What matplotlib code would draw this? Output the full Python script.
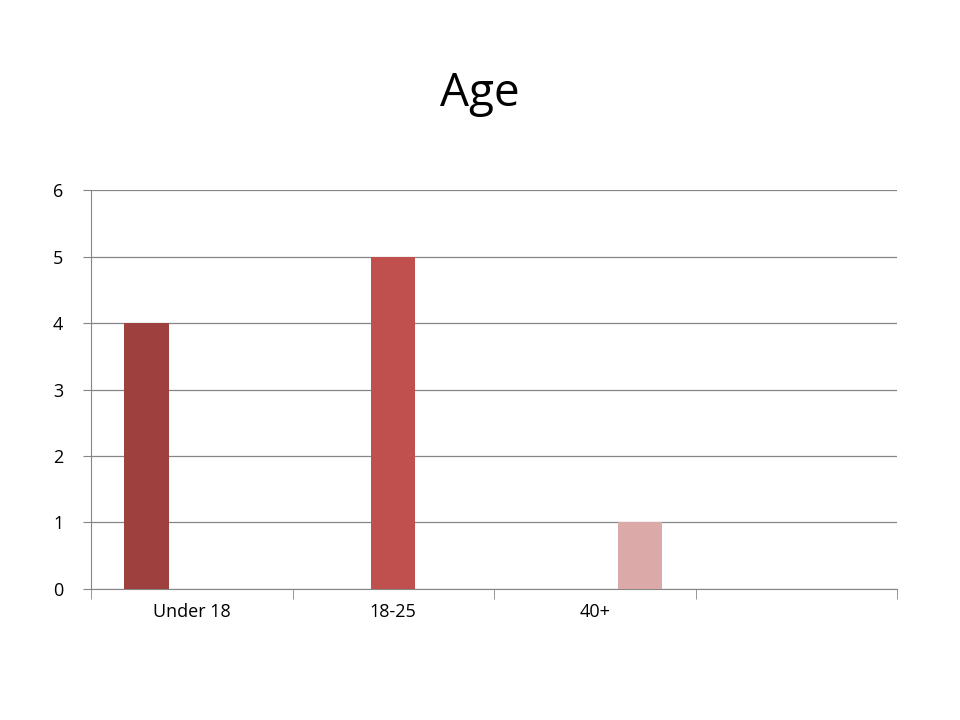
import numpy as np
import matplotlib.pyplot as plt

categories = ['Under 18', '18-25', '40+', '']
series_values = [[4, 0, 0, 0], [0, 5, 0, 0], [0, 0, 1, 0]]
series_colors = ['#9E413E', '#C0504D', '#DBA9A8']
offsets = [-0.225, 0.0, 0.225]

fig = plt.figure(figsize=(9.6, 7.2), dpi=100)
ax = fig.add_axes([0.0948, 0.182, 0.8396, 0.554])
plt.rcParams['font.family'] = ['Open Sans', 'DejaVu Sans']

x = np.arange(len(categories))
for vals, col, off in zip(series_values, series_colors, offsets):
    ax.bar(x + off, vals, width=0.22, color=col, zorder=3)

ax.set_xlim(-0.5, len(categories) - 0.5)
ax.set_ylim(0, 6)
ax.set_yticks(range(7))
ax.set_xticks(x)
ax.set_xticklabels(categories, fontsize=13, family=['Open Sans', 'DejaVu Sans'])
ax.set_xticks(np.arange(-0.5, len(categories)), minor=True)
ax.tick_params(axis='x', which='major', length=0, pad=10)
ax.tick_params(axis='x', which='minor', length=7, color='#868686', direction='out')
ax.tick_params(axis='y', length=6, color='#868686', labelsize=13, pad=14)
for lbl in ax.get_yticklabels():
    lbl.set_family(['Open Sans', 'DejaVu Sans'])
ax.grid(axis='y', color='#868686', linewidth=0.9, zorder=0)
for s in ['top', 'right']:
    ax.spines[s].set_visible(False)
ax.spines['left'].set_color('#868686')
ax.spines['bottom'].set_color('#868686')

fig.text(0.5, 0.87, 'Age', ha='center', va='center', fontsize=33,
         family=['Open Sans', 'DejaVu Sans'])

fig.savefig('out.png', dpi=100)
